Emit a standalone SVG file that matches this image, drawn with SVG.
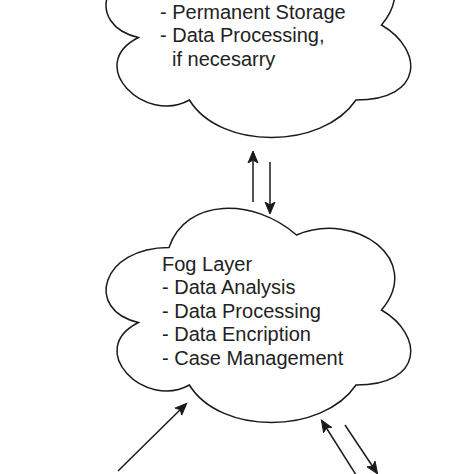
<svg xmlns="http://www.w3.org/2000/svg" width="474" height="474" viewBox="0 0 474 474">
  <style>
    .cloud { fill: #ffffff; stroke: #1a1a1a; stroke-width: 1.5; }
    .label { font-family: "Liberation Sans", Arial, sans-serif; font-size: 20px; fill: #222222; }
    .conn line { stroke: #1a1a1a; stroke-width: 1.5; fill: none; marker-end: url(#arrow); }
  </style>
  <defs>
    <path id="cloudShape" d="M169,247.5 C101,247.5 84,310 138.4,322.5 C84,350 145.2,410 189.4,385 C220,435 322,435 356,385 C424,385 424,335 381.5,310 C424,260 356,210 296.5,235 C254,197.5 186,197.5 169,247.5 Z"/>
    <marker id="arrow" markerUnits="userSpaceOnUse" markerWidth="14" markerHeight="12" refX="11" refY="5" orient="auto" viewBox="0 0 14 10">
      <path d="M0,0 L12,5 L0,10 L3,5 Z" fill="#1a1a1a" stroke="#1a1a1a" stroke-width="1"/>
    </marker>
  </defs>

  <g id="cloud-layer">
    <use href="#cloudShape" class="cloud" transform="translate(0,-285)"/>
    <text class="label">
      <tspan x="160" y="18.5">- Permanent Storage</tspan>
      <tspan x="160" y="42">- Data Processing,</tspan>
      <tspan x="172" y="65.5">if necesarry</tspan>
    </text>
  </g>

  <g id="fog-layer">
    <use href="#cloudShape" class="cloud"/>
    <text class="label">
      <tspan x="162" y="270.5">Fog Layer</tspan>
      <tspan x="162" y="294">- Data Analysis</tspan>
      <tspan x="162" y="317.5">- Data Processing</tspan>
      <tspan x="162" y="341">- Data Encription</tspan>
      <tspan x="162" y="364.5">- Case Management</tspan>
    </text>
  </g>

  <g id="connectors" class="conn">
    <line x1="253" y1="202" x2="253" y2="152"/>
    <line x1="270" y1="162" x2="270" y2="213"/>
    <line x1="118" y1="471" x2="186" y2="404"/>
    <line x1="358" y1="478" x2="322" y2="421"/>
    <line x1="345" y1="425" x2="377" y2="473"/>
  </g>
</svg>
